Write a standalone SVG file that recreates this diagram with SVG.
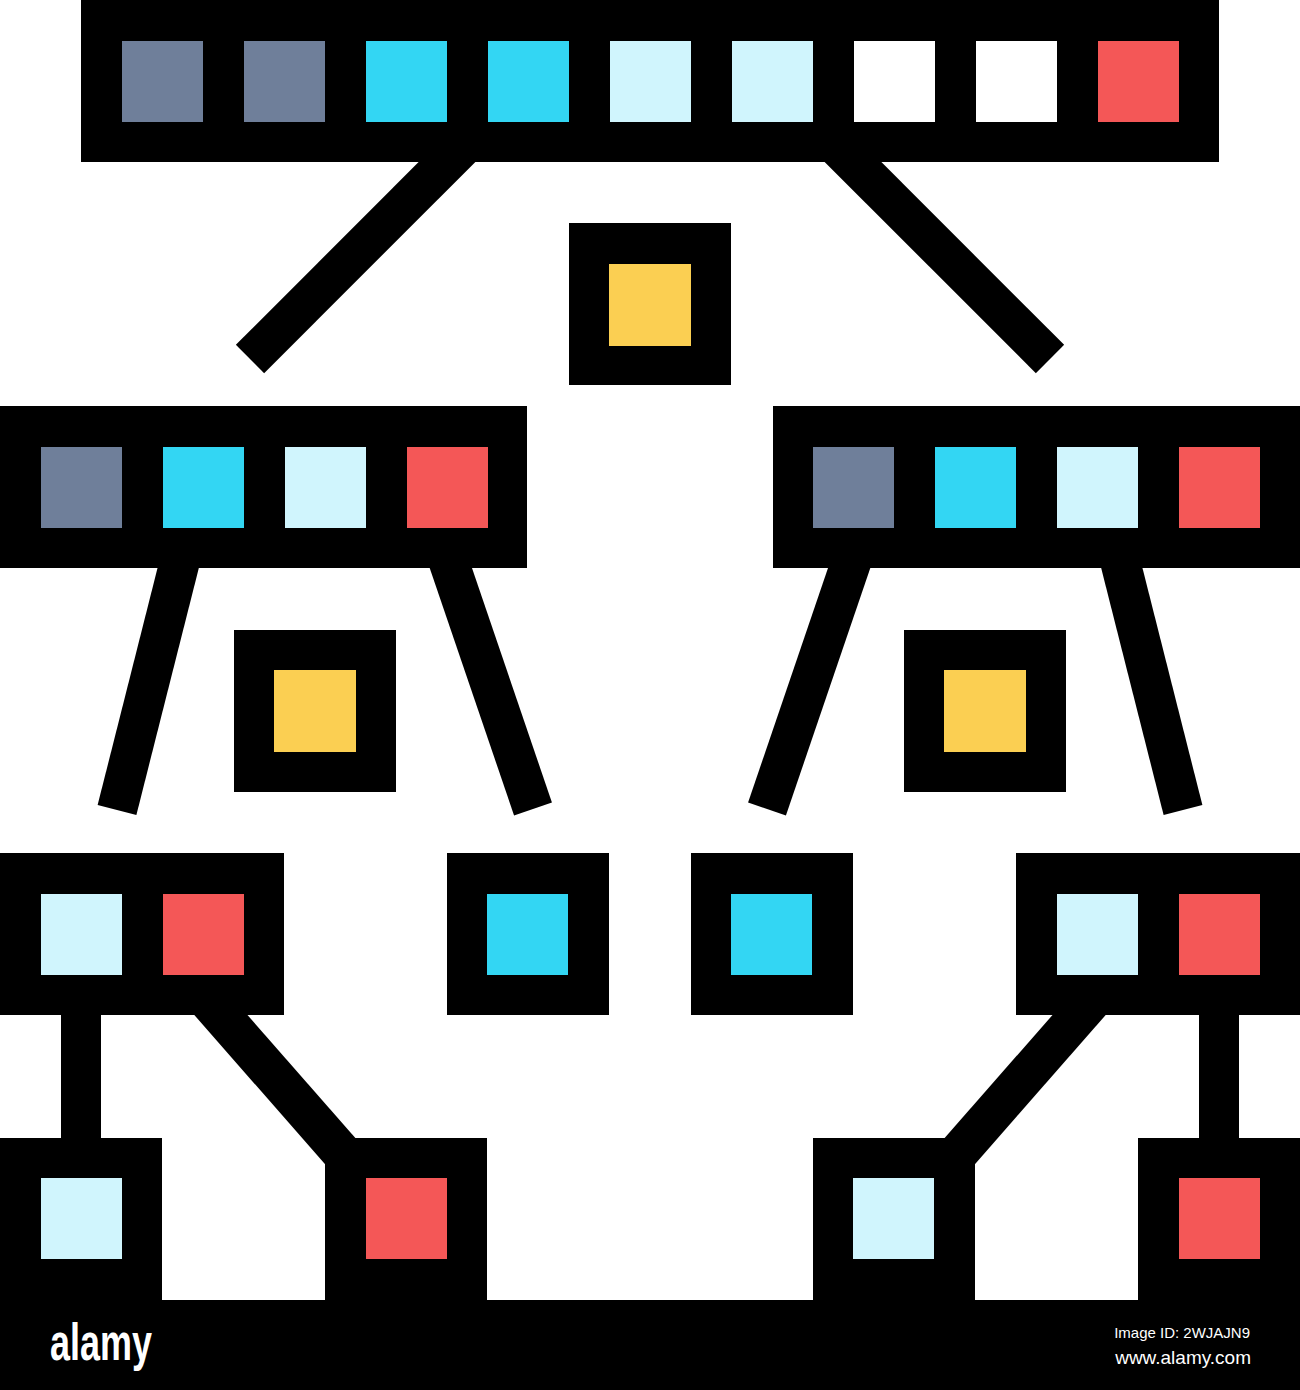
<svg xmlns="http://www.w3.org/2000/svg" width="1300" height="1390" viewBox="0 0 1300 1390">
<style>
.blk{fill:#000}
.sl{fill:#6F7F9A}
.cy{fill:#33D6F3}
.lt{fill:#D0F5FD}
.wh{fill:#FFFFFF}
.rd{fill:#F45757}
.yl{fill:#FBCF52}
.ln{stroke:#000;stroke-width:40;fill:none;stroke-linecap:butt}
.t{font-family:"Liberation Sans Narrow","Liberation Sans",Arial,sans-serif;fill:#fff}
</style>
<rect x="0" y="0" width="1300" height="1390" fill="#fff"/>
<g id="connectors">
<line class="ln" x1="467" y1="142" x2="250" y2="359"/>
<line class="ln" x1="833" y1="142" x2="1050" y2="359"/>
<line class="ln" x1="184" y1="545" x2="117" y2="810"/>
<line class="ln" x1="443" y1="545" x2="533" y2="809"/>
<line class="ln" x1="857" y1="545" x2="767" y2="809"/>
<line class="ln" x1="1116" y1="545" x2="1183" y2="810"/>
<line class="ln" x1="81" y1="1000" x2="81" y2="1150"/>
<line class="ln" x1="199" y1="990" x2="348" y2="1160"/>
<line class="ln" x1="1219" y1="1000" x2="1219" y2="1150"/>
<line class="ln" x1="1101" y1="990" x2="952" y2="1160"/>
</g>
<g id="top-array">
<rect class="blk" x="81" y="0" width="1138" height="162"/>
<rect class="sl" x="122" y="41" width="81" height="81"/>
<rect class="sl" x="244" y="41" width="81" height="81"/>
<rect class="cy" x="366" y="41" width="81" height="81"/>
<rect class="cy" x="488" y="41" width="81" height="81"/>
<rect class="lt" x="610" y="41" width="81" height="81"/>
<rect class="lt" x="732" y="41" width="81" height="81"/>
<rect class="wh" x="854" y="41" width="81" height="81"/>
<rect class="wh" x="976" y="41" width="81" height="81"/>
<rect class="rd" x="1098" y="41" width="81" height="81"/>
</g>
<g id="pivot-top">
<rect class="blk" x="569" y="223" width="162" height="162"/>
<rect class="yl" x="609" y="264" width="82" height="82"/>
</g>
<g id="left-array">
<rect class="blk" x="0" y="406" width="527" height="162"/>
<rect class="sl" x="41" y="447" width="81" height="81"/>
<rect class="cy" x="163" y="447" width="81" height="81"/>
<rect class="lt" x="285" y="447" width="81" height="81"/>
<rect class="rd" x="407" y="447" width="81" height="81"/>
</g>
<g id="right-array">
<rect class="blk" x="773" y="406" width="527" height="162"/>
<rect class="sl" x="813" y="447" width="81" height="81"/>
<rect class="cy" x="935" y="447" width="81" height="81"/>
<rect class="lt" x="1057" y="447" width="81" height="81"/>
<rect class="rd" x="1179" y="447" width="81" height="81"/>
</g>
<g id="pivot-left">
<rect class="blk" x="234" y="630" width="162" height="162"/>
<rect class="yl" x="274" y="670" width="82" height="82"/>
</g>
<g id="pivot-right">
<rect class="blk" x="904" y="630" width="162" height="162"/>
<rect class="yl" x="944" y="670" width="82" height="82"/>
</g>
<g id="left-pair">
<rect class="blk" x="0" y="853" width="284" height="162"/>
<rect class="lt" x="41" y="894" width="81" height="81"/>
<rect class="rd" x="163" y="894" width="81" height="81"/>
</g>
<g id="cyan-left">
<rect class="blk" x="447" y="853" width="162" height="162"/>
<rect class="cy" x="487" y="894" width="81" height="81"/>
</g>
<g id="cyan-right">
<rect class="blk" x="691" y="853" width="162" height="162"/>
<rect class="cy" x="731" y="894" width="81" height="81"/>
</g>
<g id="right-pair">
<rect class="blk" x="1016" y="853" width="284" height="162"/>
<rect class="lt" x="1057" y="894" width="81" height="81"/>
<rect class="rd" x="1179" y="894" width="81" height="81"/>
</g>
<g id="leaf-1">
<rect class="blk" x="0" y="1138" width="162" height="162"/>
<rect class="lt" x="41" y="1178" width="81" height="81"/>
</g>
<g id="leaf-2">
<rect class="blk" x="325" y="1138" width="162" height="162"/>
<rect class="rd" x="366" y="1178" width="81" height="81"/>
</g>
<g id="leaf-3">
<rect class="blk" x="813" y="1138" width="162" height="162"/>
<rect class="lt" x="853" y="1178" width="81" height="81"/>
</g>
<g id="leaf-4">
<rect class="blk" x="1138" y="1138" width="162" height="162"/>
<rect class="rd" x="1179" y="1178" width="81" height="81"/>
</g>
<g id="footer">
<rect class="blk" x="0" y="1300" width="1300" height="90"/>
<text class="t" x="50" y="1360" font-size="52" font-weight="bold" textLength="102" lengthAdjust="spacingAndGlyphs">alamy</text>
<text class="t" x="1250" y="1338" font-size="15" text-anchor="end">Image ID: 2WJAJN9</text>
<text class="t" x="1251" y="1364" font-size="19" text-anchor="end">www.alamy.com</text>
</g>
</svg>
